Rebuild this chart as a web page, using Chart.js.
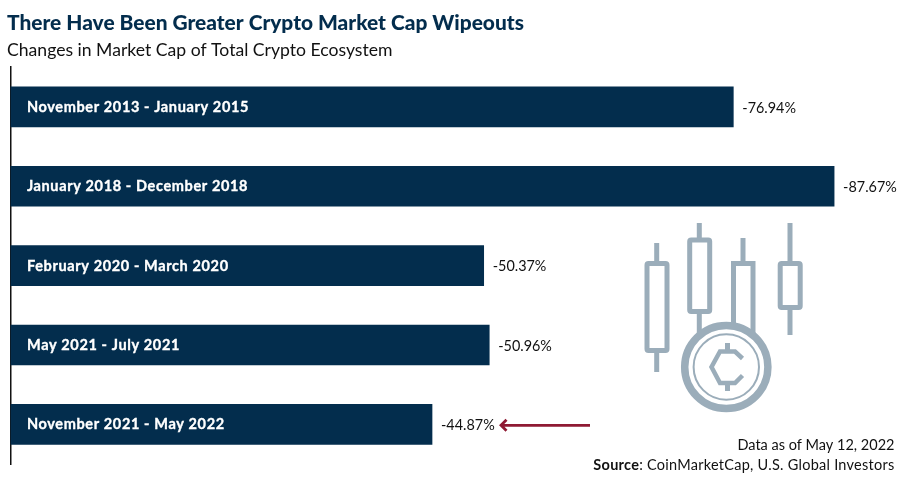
<!DOCTYPE html>
<html><head><meta charset="utf-8">
<style>
html,body{margin:0;padding:0;background:#fff;width:900px;height:477px;overflow:hidden}
#wrap{position:relative;width:900px;height:477px}
canvas{position:absolute;left:0;top:0}
svg{position:absolute;left:0;top:0;pointer-events:none}
</style>
<script src="https://cdn.jsdelivr.net/npm/chart.js@4"></script>
</head><body>
<div id="wrap">
<canvas id="c" width="900" height="477"></canvas>
<svg width="900" height="477" viewBox="0 0 900 477" fill="none" stroke="#9badba" stroke-width="5">
  <path d="M656.7 243V262M656.7 352V372"/><rect x="647" y="263.5" width="20" height="87" rx="1.5"/>
  <path d="M699.3 223V240M699.3 312V335"/><rect x="689.7" y="240" width="20" height="71.5" rx="1.5"/>
  <path d="M743 238V263"/><path d="M733.5 335V263.5H753V335"/>
  <path d="M790 223V263M790 308V335"/><rect x="780.2" y="263.5" width="20" height="44" rx="1.5"/>
  <circle cx="726.3" cy="367" r="41.6" fill="#fff" stroke-width="7.5"/>
  <circle cx="726.3" cy="367" r="32.7" stroke-width="2"/>
  <path d="M742.5 358.5L735 351.5H720L711.5 367L720 383H735L742.5 375.5" stroke-width="4.5"/>
  <path d="M727.5 343V351M727.5 383V391" stroke-width="5"/>
</svg>
</div>
<script>
const categories = ["November 2013 - January 2015","January 2018 - December 2018","February 2020 - March 2020","May 2021 - July 2021","November 2021 - May 2022"];
const changes = [-76.94,-87.67,-50.37,-50.96,-44.87];
const valueLabels = ["-76.94%","-87.67%","-50.37%","-50.96%","-44.87%"];
const titleText = "There Have Been Greater Crypto Market Cap Wipeouts";
const subtitleText = "Changes in Market Cap of Total Crypto Ecosystem";
const footDate = "Data as of May 12, 2022";
const footSourceBold = "Source";
const footSourceRest = ": CoinMarketCap, U.S. Global Investors";
const NAVY = "#032d4d", FONT = "Lato, 'Open Sans', sans-serif";

const overlay = {
  id:"overlay",
  afterDatasetsDraw(chart){
    const {ctx} = chart, meta = chart.getDatasetMeta(0);
    ctx.save();
    ctx.textBaseline = "middle";
    meta.data.forEach((bar,i)=>{
      ctx.textAlign = "left";
      ctx.fillStyle = "#fff";
      ctx.strokeStyle = "#fff";
      ctx.lineWidth = 0.35;
      ctx.font = "bold 14.5px " + FONT;
      ctx.letterSpacing = "0.62px";
      ctx.fillText(categories[i], 27, bar.y + 0.3);
      ctx.strokeText(categories[i], 27, bar.y + 0.3);
      ctx.letterSpacing = "0px";
      ctx.fillStyle = "#111";
      ctx.font = "14.4px " + FONT;
      ctx.fillText(valueLabels[i], bar.x + 9, bar.y + 1.2);
    });
    // red arrow beside the latest wipeout
    const y = meta.data[4].y + 1;
    ctx.strokeStyle = "#8f1a33"; ctx.lineWidth = 2.8;
    ctx.beginPath(); ctx.moveTo(590,y); ctx.lineTo(501,y);
    ctx.moveTo(506.5,y-5.5); ctx.lineTo(501,y); ctx.lineTo(506.5,y+5.5); ctx.stroke();
    // footer
    ctx.fillStyle = "#111"; ctx.textAlign = "right"; ctx.textBaseline = "alphabetic";
    ctx.font = "14.5px " + FONT;
    ctx.fillText(footDate, 894.5, 450);
    ctx.letterSpacing = "0.26px";
    ctx.fillText(footSourceRest, 894.5, 470);
    const w = ctx.measureText(footSourceRest).width;
    ctx.font = "bold 14.5px " + FONT;
    ctx.fillText(footSourceBold, 894.5 - w, 470);
    ctx.restore();
  }
};

new Chart(document.getElementById("c"),{
  type:"bar",
  data:{labels:categories,datasets:[{data:changes,backgroundColor:NAVY,barThickness:40,borderWidth:0}]},
  plugins:[overlay],
  options:{
    indexAxis:"y",responsive:false,animation:false,devicePixelRatio:1,
    layout:{padding:{left:7,right:44,top:0,bottom:13}},
    plugins:{
      legend:{display:false},tooltip:{enabled:false},
      title:{display:true,text:titleText,align:"start",color:NAVY,font:{family:FONT,size:20.9,weight:"900"},padding:{top:11,bottom:2}},
      subtitle:{display:true,text:subtitleText,align:"start",color:"#111",font:{family:FONT,size:17.6,weight:"400"},padding:{top:2,bottom:6}}
    },
    scales:{
      x:{reverse:true,min:-90,max:0,display:false,grid:{display:false}},
      y:{afterFit(s){s.width=3.5},grid:{display:false,drawTicks:false},ticks:{display:false},border:{display:true,color:"#111",width:1.5}}
    }
  }
});
</script>
</body></html>
